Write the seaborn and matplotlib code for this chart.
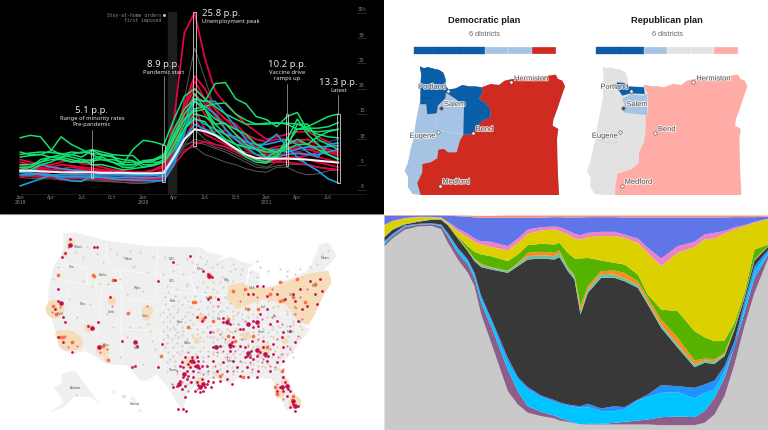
#!/usr/bin/env python3
"""
Four panel news graphics collage: minority unemployment gap, Oregon district
plans, US county dot map and a stacked stream chart
"""

import matplotlib
matplotlib.use("Agg")
import matplotlib.pyplot as plt
import matplotlib.patheffects as pe
import numpy as np
import pandas as pd
import seaborn as sns

# ---- unemployment gap lines, one value per month from Jan 2019 to Aug 2021
months = list(range(32))
red_lines = [
    [6,5.5,5,4.8,4.2,3.8,4,3.8,3.5,3.3,3.2,3.3,3.5,4,5,14,31,35,26,19.5,17,15,13,11.5,10,10.5,11,11.5,11.5,10.5,9.5,8.5],
    [5,4.5,4.8,5,5.5,6,5.2,5,4.5,4,3.8,3.6,3.5,3.8,4.5,10,17,22.5,20,16,14,12,10.5,9,8,8.5,9,9.5,10,9,8,7],
    [4.5,4,4.2,3.5,4,3.8,3.6,3.5,3.2,3,2.8,2.7,2.6,2.8,3.5,9,16,21.5,18,14.5,12,10,9,8,7.5,7.8,8,8.2,8.5,8,7.5,6.8],
    [4,3.8,3.5,3,2.5,2.8,3,3,2.8,2.5,2.3,2.2,2.2,2.4,3,8,14,18,15,12,11,10,9,8.5,7,7,7,7.5,7,6.5,6,5.5],
    [3.5,3.2,3,2.8,2,2.6,2.8,2.6,2.5,2.3,2.1,2,2,2.2,2.8,7,12,16,12,11.5,11.8,10,8,7,5.8,6,6,6.5,6.8,7.5,8,7.5],
    [2.5,3,3.5,3,2.5,2.4,2.6,2.4,2.3,2.1,2,1.9,1.9,2,2.5,6,10,14,11,10,9,8,7,6,5.5,5.5,5.5,5.2,5,4.5,4.2,4],
    [5.5,5,4.5,4,4.2,4.5,4.2,4,3.8,3.5,3.3,3.2,3,3.2,4,9,15,19,17,15,13,11,9.5,8.5,7.5,8,8.5,8.5,8,7.5,7,6.2],
    [3,2.8,2.6,2.5,2.3,2.3,2.4,2.3,2.2,2,1.9,1.8,1.8,1.9,2.2,5,7.5,9.2,9.5,9,8.5,7.5,6.5,6,5.5,6,6.5,6.5,6,5.5,5,4.5],
    [4.2,3.8,4,4.5,5,4.8,4.5,4.3,4,3.8,3.5,3.4,3.5,3.8,5,11,16,20,18,16,14,13,11,10,9.5,10,10,9.5,9,8.5,8,7.5],
]
green_lines = [
    [10.3,10.8,10.5,8,7,6.5,6,5.8,6,5.5,5,5,5.5,6,6.5,11,15,17.5,16,14,13,12,11,9,8,7.5,9,10,9,8,7,6.2],
    [7.5,7,7,7.7,10.5,9,8,7,6,6,5.5,5.5,5.5,5.8,6.5,10,14,16,16.5,17,17.2,15,13.8,13,13,13.2,13.2,13,12.2,12.2,12.5,13.3],
    [6.5,6.8,7,6.5,6.5,7,7.5,7.2,7,6.8,5,5,5.8,6,7,12,16,18,17.5,21,21.2,18,17,14.5,13.9,12.5,14.5,15.3,11.7,11.5,11.7,12],
    [5,5,5.5,6,6,5.5,5.5,6,6.8,6.6,5,8,9.8,9.5,8.9,14,18.5,20,18,16.5,15,14,13,13,13.2,13.3,13,12,12.5,13.5,14.5,15],
    [4,4.5,5.5,6.5,7,7.5,7.3,8,7.5,7,6.8,6.8,5,5,6,10.5,14,15.5,16,13,11,9,7,6,5.5,7,10,14,11,9,7,6],
    [3.5,4,5,5.5,6.5,6,5.5,5.5,6.5,5.5,4.5,4.5,5.5,5.5,5.5,9,13,19,16,12,10,9,8.5,8,7.5,7.5,8.5,13,13,10,9,8],
    [7,7.3,7.5,7.4,7.2,7,6.5,7.8,7,6.5,6,5.8,4.5,4.8,5.5,8,12,14,13.5,11,9.5,8,6.5,5.5,5.3,6.5,9,12,12,11,10.5,10.3],
    [4.5,4.5,6,6.5,6.2,5.5,6,5,5,4.5,4,4.2,4.5,5,5.5,9,12,15,14.5,13,13.2,11,9,8,6.5,7.5,8,9,9,10.5,11.5,12],
]
blue_lines = [
    [0.8,1.5,2.2,3,2.2,1.8,1.7,2.8,2.5,2.2,2,2,1.9,1.8,1.8,5,11,18,17.5,17.5,15,12.5,10,8,9.5,11,8.5,6.5,5,3.8,2.2,1.4],
    [3,3,3.2,3,3,3,3,3,3,3,3,3,2.9,2.9,3,6,10,13,12,11,10,9,8.5,8,8,8,7.5,8,8.5,8.5,8.6,8.8],
    [3.5,3.3,5,4.5,4.2,4,3.8,3.5,3.3,3.2,3.1,3,3,3,3.5,7,12,14.2,13,12,11,10.5,9.5,9,9,9.5,10,9,7.5,6.5,9,9.3],
    [4,3.5,3,2.8,2.6,2.6,2.6,2.5,2.5,2.5,2.5,2.5,2.4,2.4,2.6,6,12,17.5,16.5,15,12,10,8.5,7,6.5,6.5,7,7.2,7,7,7.5,8],
]
grey_lines = [
    [3,3,2.8,2.6,2.5,2.4,2.2,2,1.9,1.7,1.5,1.3,1.3,1.5,2,8,18,28,22,16,12,10,8,7,6.5,7,7.5,7.5,8,8,7.5,7],
    [2.5,2.3,2.2,2.2,2,2,1.9,1.8,1.7,1.6,1.5,1.4,1.4,1.6,2,6,8,8.5,7,6.3,5.5,5,4.2,3.7,3.5,4.5,4.5,3.5,3,3.2,3.8,4],
    [3.5,3.2,3,3,2.8,2.7,2.6,2.5,2.4,2.3,2.2,2.1,2,2.2,2.8,6.5,8.5,10,9.5,8.5,8,7,6,5,4.5,5.5,6.5,6,5,4.5,4.2,4],
    [4,3.8,3.6,3.5,3.4,3.3,3.2,3.1,3,3,2.9,2.8,2.8,3,3.5,7,9,12,10,9,8.5,8,7.5,7,7,7.5,9,10,10,9.5,9.5,10],
    [2.8,2.6,2.5,2.4,2.3,2.3,2.2,2.1,2,1.9,1.9,1.8,1.8,2,2.5,5.5,9,9.5,9,8.2,7.5,6.5,5.5,4.5,4.3,4.8,5,5,5,4.5,4.3,4],
]
white_line = [3.8,3.8,3.7,3.6,3.5,3.5,3.5,3.5,3.4,3.4,3.4,3.3,3.3,3.3,3.4,6.5,10,12,11.6,10.8,9.5,8.2,7,6.3,6.2,6.2,6.2,6.1,6,5.8,5.6,5.4]

x_tick_months = [0, 3, 6, 9, 12, 15, 18, 21, 24, 27, 30]
x_tick_labels = ["Jan\n2019", "Apr", "Jul", "Oct", "Jan\n2020", "Apr", "Jul", "Oct", "Jan\n2021", "Apr", "Jul"]
y_tick_values = [0, 5, 10, 15, 20, 25, 30, 35]
y_tick_labels = ["0", "5", "10", "15", "20", "25", "30", "35%"]

# month, bottom and top of the white range boxes
range_months = [7, 14, 17, 26, 31]
range_low = [2.3, 1.5, 8.6, 4.7, 1.3]
range_high = [7.8, 8.9, 35.2, 15.1, 15]
leader_top = [11.8, 22.5, 35.2, 21, 18.8]

# ---- Oregon shapes, picture units of the map panel
oregon_nw = [(108,203),(120,208),(132,205),(150,210),(165,213),(178,222),(184,240),(186,262),(193,272)]
oregon_n = [(215,268),(235,258),(255,262),(275,262),(293,265)]
oregon_e = [(320,255),(345,258),(362,245),(385,240),(420,240),(445,242),(475,233),(515,227),(522,240),
            (535,245),(543,262),(535,285),(528,305),(520,330),(508,362),(506,380),(523,390),(519,420),
            (520,470),(522,530),(525,588)]
oregon_sw = [(110,588),(85,585),(72,565),(72,535),(62,515),(72,490),(80,450),(88,420),(95,370),(105,320),
             (110,295),(110,260),(112,225)]
dem_red_edge = [(110,588),(100,552),(115,520),(115,495),(140,490),(160,478),(163,452),(180,450),(192,460),
                (218,460),(228,425),(238,408),(265,405),(275,385),(300,362),(320,355),(318,330),(305,312),
                (285,300),(295,282)]
dem_upper = [(185,280),(147,280),(145,297),(110,297),(110,260),(112,225)]
dem_lower = [(110,297),(145,297),(147,280),(185,280),(183,297),(160,320),(158,342),(130,345),(128,315),(110,315)]
dem_central_edge = [(295,282),(285,300),(305,312),(318,330),(320,355),(300,362),(275,385),(265,405),(238,408),
                    (240,320),(215,300),(185,280)]
dem_light_edges = [[(158,342),(155,385),(165,395),(220,403),(238,405)]]
rep_pink_edge = [(146,588),(148,560),(153,525),(198,510),(218,490),(218,460),(233,430),(238,400),(238,350),
                 (245,348),(245,285),(233,262)]
rep_salem = [(168,300),(193,285),(228,290),(243,285),(243,348),(208,345),(171,340),(175,320)]
rep_portland = [(145,265),(153,250),(173,252),(188,262),(233,265),(235,285),(193,283),(168,290),(158,275)]
rep_grey_edges = [[(100,420),(140,415),(155,430),(125,432),(100,425)]]

cities = ["Hermiston", "Portland", "Salem", "Bend", "Eugene", "Medford"]
city_x = [381, 193, 170, 266, 162, 168]
city_y = [250, 275, 328, 403, 400, 562]
label_x = [390, 187, 180, 275, 155, 175]
label_y = [240, 265, 317, 392, 412, 550]
label_ha = ["left", "right", "left", "left", "right", "left"]

dem_districts = ["#0b5ea8", "#0b5ea8", "#0b5ea8", "#a6c3e3", "#a6c3e3", "#d02b20"]
rep_districts = ["#0b5ea8", "#0b5ea8", "#a6c3e3", "#e2e2e2", "#e2e2e2", "#ffaca6"]

# ---- US map, picture units of the map panel
us_outline = [(190,58),(225,55),(320,80),(450,97),(600,100),(625,115),(672,125),(650,140),(690,128),(730,145),
              (760,150),(745,165),(735,225),(755,165),(780,180),(778,215),(800,225),(850,200),(880,190),(920,172),
              (935,150),(960,90),(985,85),(1010,125),(975,165),(985,200),(960,240),(930,290),(915,340),(930,345),
              (890,400),(855,440),(840,460),(870,510),(905,575),(890,585),(860,590),(830,530),(815,495),(770,490),
              (720,490),(690,510),(650,495),(600,500),(560,540),(550,590),(530,565),(510,530),(470,480),(440,500),
              (420,500),(385,455),(320,450),(255,410),(225,420),(180,370),(165,350),(145,280),(145,230),(160,160),
              (190,110)]
alaska_outline = [(185,480),(225,470),(255,510),(300,570),(275,550),(225,545),(190,580),(150,595),(190,565),
                  (170,530),(160,520),(185,510)]
hawaii_x = [340, 372, 395, 403, 418]
hawaii_y = [530, 545, 553, 560, 588]
state_lines = [
    [(320,78),(318,130),(340,170),(362,175),(362,218)],
    [(165,155),(220,150),(265,165),(262,212)],
    [(150,190),(262,212),(362,220)],
    [(208,205),(205,262),(290,375)],
    [(305,220),(295,340),(290,375)],
    [(362,170),(470,180),(465,265),(365,255),(362,170)],
    [(365,255),(362,345),(485,352),(490,265)],
    [(362,345),(365,450)],
    [(472,98),(470,180),(570,190),(585,240),(465,228)],
    [(490,265),(590,270),(605,340),(485,340)],
    [(485,352),(480,450)],
    [(600,100),(575,190),(585,240),(670,245)],
    [(605,340),(695,340),(690,400),(650,440)],
    [(700,225),(740,290),(720,330),(695,340)],
    [(740,235),(775,290),(730,340)],
    [(775,235),(880,225),(875,290),(830,300)],
    [(730,340),(850,330),(920,330)],
    [(700,360),(850,355)],
    [(745,355),(770,470)],
    [(700,360),(720,480)],
    [(800,350),(850,440)],
]
state_names = ["Wash.","Ore.","Mont.","Idaho","Wyo.","Utah","Nev.","Calif.","Ariz.","N.M.","Colo.","N.D.","S.D.",
               "Neb.","Kan.","Okla.","Texas","Minn.","Iowa","Mo.","Ark.","Wis.","Ill.","Ind.","Ohio","Mich.","Ky.",
               "Tenn.","Miss.","Ala.","Ga.","Pa.","N.Y.","Maine","Alaska","Hawaii","Va.","N.C."]
state_x = [235,216,387,308,413,335,248,183,318,413,436,515,517,521,541,565,520,604,628,660,650,682,740,790,878,757,826,
           785,692,750,800,890,945,977,226,405,900,870]
state_y = [95,157,131,181,219,292,266,298,390,400,304,132,197,258,322,385,466,163,248,312,395,196,282,275,240,218,303,
           350,438,420,425,278,213,128,520,566,320,350]

peach_blob_x = [165,205,225,180,308,442,440,335,212,195,840,885,855,790,740,855,628,605,600,570,265,592,650,690,320]
peach_blob_y = [285,380,385,362,408,290,308,260,85,120,535,565,505,410,365,380,185,312,505,445,342,380,480,385,435]
peach_blob_r = [28,32,24,14,20,17,12,13,13,9,17,19,12,18,14,10,12,14,16,18,13,10,8,9,9]
# Ohio valley and north east band
peach_band = [(685,215),(730,205),(750,225),(800,220),(840,215),(870,200),(920,180),(985,170),(995,205),(970,245),
              (945,300),(925,335),(890,315),(860,275),(840,265),(790,255),(750,270),(710,285),(680,255)]
peach_dots = [(225,115),(260,100),(330,105),(390,110),(460,130),(405,155),(360,195),(300,210),(320,300),(430,230),
              (390,340),(450,350),(505,370),(290,120),(350,120),(400,160),(575,145),(640,205),(560,215),(208,255),
              (640,460),(660,450),(705,430),(830,400),(860,420),(880,430),(820,370),(770,380),(690,350),(640,370),
              (580,370),(525,345),(480,300),(445,330),(380,370),(250,200),(275,215),(325,210),(380,300),(370,545),
              (228,542),(860,170),(850,205),(905,190),(770,140),(660,290),(640,275),(580,300),(545,410),(525,440),
              (700,200),(715,295),(735,285),(770,265),(805,262),(835,275),(860,290),(880,330),(905,345),(700,305),
              (720,360),(760,365),(790,370),(815,345),(835,335),(800,385),(760,400),(720,420),(680,420),(640,420),
              (610,400),(650,350),(620,365),(590,360),(760,450),(785,455),(840,430),(875,415),(900,370)]
grey_dots = [(495,130),(530,150),(560,135),(590,150),(620,140),(650,150),(490,180),(520,170),(550,180),(580,175),
             (610,205),(640,225),(665,160),(690,170),(720,180),(680,200),(700,150),(560,210),(590,220),(620,220),
             (650,235),(670,220),(500,215),(530,225),(495,250),(525,245),(555,250),(585,245),(615,235),(645,250),
             (675,250),(495,270),(520,275),(545,270),(570,280),(595,285),(620,280),(650,275),(680,280),(490,295),
             (510,300),(530,295),(555,305),(580,300),(625,300),(655,300),(680,305),(710,300),(490,325),(510,320),
             (530,330),(555,325),(580,330),(630,335),(655,345),(700,330),(725,315),(490,350),(510,345),(530,355),
             (550,350),(590,345),(610,355),(635,350),(680,345),(710,345),(740,360),(490,375),(515,375),(535,370),
             (560,375),(585,385),(610,380),(650,375),(675,385),(720,375),(760,355),(790,345),(815,335),(840,340),
             (495,400),(520,400),(545,395),(570,400),(600,410),(625,410),(665,415),(700,420),(730,410),(770,395),
             (810,365),(830,355),(860,335),(880,320),(520,425),(540,420),(610,430),(650,425),(675,430),(715,405),
             (755,405),(780,430),(815,430),(840,420),(870,400),(890,375),(500,445),(525,455),(620,475),(660,465),
             (695,460),(725,445),(750,450),(795,460),(825,465),(500,475),(530,480),(560,510),(625,480),(700,480),
             (755,475),(690,230),(725,300),(760,300),(800,310),(820,280),(860,300),(880,300),(730,240),(780,160),
             (750,175),(770,190),(930,160),(950,150),(885,180),(900,165),(965,120),(985,110),(160,195),(175,160),
             (250,130),(310,145),(370,130),(420,115),(440,175),(380,240),(270,270),(230,310),(340,340),(420,340),
             (360,430),(430,450),(465,405),(455,380),
             (505,235),(535,260),(565,262),(600,260),(630,265),(660,265),(690,268),(505,285),(535,285),(565,295),
             (600,298),(640,290),(670,292),(700,290),(500,310),(520,310),(545,315),(570,318),(640,310),(700,315),
             (745,310),(770,310),(500,338),(520,340),(545,340),(570,342),(620,340),(665,355),(695,355),(725,360),
             (775,360),(805,355),(500,362),(525,362),(545,362),(575,362),(600,368),(630,370),(665,370),(695,370),
             (735,375),(500,388),(530,388),(555,385),(580,400),(640,385),(665,395),(705,395),(745,390),(505,415),
             (530,415),(560,415),(585,420),(640,415),(690,430),(735,445),(770,440),(800,415),(825,410),(865,365),
             (510,435),(600,475),(640,475),(680,455),(710,470),(775,455),(805,450),(835,465),(880,350),(900,335),
             (600,130),(615,150),(635,160),(665,190),(660,205),(705,165),(725,165),(805,170),(840,165),(860,185)]
pink_dots = [(640,355),(660,360),(675,375),(715,330),(705,350),(735,320),(785,315),(815,310),(845,330),(870,335),
             (650,415),(625,425),(670,410),(705,410),(725,375),(745,395),(775,375),(805,395),(830,375),(860,395),
             (870,405),(835,430),(810,455),(785,445),(755,465),(725,470),(700,470),(665,480),(640,490),(610,480),
             (595,475),(570,505),(545,505),(565,530),(590,525),(625,470),(645,455),(680,430),(720,440),(750,445),
             (775,420),(790,435),(810,405),(845,420),(825,460),(850,465),(845,490),(830,510),(850,555),(875,555),
             (895,365),(905,315),(885,300),(900,250),(920,225),(815,225),(770,250),(720,260),(655,275),(545,440),
             (180,280),(155,295),(195,365),(205,400),(230,395),(300,415),(320,405),(440,275),(335,275),(205,100),
             (565,415),(590,425),(610,440),(530,470),(515,510)]
orange_dots = [(180,370),(158,275),(168,300),(280,183),(340,197),(385,297),(585,263),(565,340),(610,315),(683,315),
               (640,320),(705,380),(685,365),(845,472),(825,520),(830,540),(880,545),(323,437),(484,425),(730,490),
               (840,260),(850,258),(880,250),(775,285),(745,285),(700,230),(735,225),(810,240),(945,210),(840,205),
               (890,195),(915,265),(800,400),(630,250),(580,265),(760,365),(660,485),(175,182),(283,185),(310,395),
               (190,370),(215,385)]
crimson_big = [(210,92),(182,268),(275,343),(298,400),(405,385),(538,510),(552,480),(575,440),(590,455),(600,520),
               (610,510),(648,398),(690,392),(745,418),(770,408),(795,420),(860,515),(880,560),(885,575),(845,520),
               (628,185),(745,330),(770,325),(682,325)]
crimson_small = [(545,445),(555,430),(565,450),(575,430),(585,455),(595,440),(605,455),(580,470),(560,470),(550,490),
                 (530,515),(545,525),(560,495),(580,490),(590,505),(605,495),(615,520),(625,500),(640,505),(600,535),
                 (555,550),(520,520),(548,585),(558,590),(535,585),(660,500),(680,495),(695,510),(720,485),(745,490),
                 (770,490),(775,470),(810,470),(830,445),(850,440),(820,420),(800,440),(760,435),(735,430),(700,440),
                 (670,445),(640,440),(620,455),(650,470),(680,470),(710,460),(740,460),(690,410),(660,395),(640,400),
                 (630,355),(605,320),(590,310),(615,310),(670,325),(700,370),(730,345),(760,340),(780,300),(800,285),
                 (830,320),(850,355),(870,350),(845,370),(885,385),(820,390),(790,380),(755,380),(720,395),(850,400),
                 (840,520),(860,545),(870,530),(885,590),(870,580),(850,490),(175,260),(165,285),(190,310),(195,325),
                 (175,370),(190,385),(215,415),(265,335),(210,75),(195,118),(185,130),(290,98),(282,98),(330,248),
                 (475,200),(410,395),(395,460),(405,455),(475,460),(485,390),(625,180),(635,190),(610,170),(570,125),
                 (520,145),(655,255),(625,255),(365,380),(295,325),(345,197),(175,225),(770,215),(790,215),(745,240),
                 (760,240),(800,245),(830,240),(855,255),(885,260),(900,225),(930,200),(960,195),(895,320),(920,275),
                 (945,240),(965,230),(950,270),(905,285),(880,240),(655,255),(720,345),(810,330),(700,395),(735,400),
                 (570,440),(582,445),(598,462),(570,460),(548,460),(540,455),(592,430),(565,485),(540,500),(572,505),
                 (595,512),(585,530),(620,510),(632,518),(610,530),(555,515),(690,400),(695,385),(740,425),(752,410),
                 (780,415),(788,400),(805,425),(770,425),(750,430),(855,505),(865,525),(850,530),(830,530),(880,570),
                 (895,575),(760,320),(775,335),(670,312),(690,330)]

# ---- stream chart, upper edge of each layer in picture units of its panel
stream_x = [0,24,60,100,140,170,190,220,250,270,290,320,370,400,430,470,510,525,550,570,588,610,650,690,720,760,790,
            830,880,930,960,990,1020,1050,1080,1110,1152]
purple_bottom = [95,72,46,36,34,44,85,135,175,215,300,385,530,570,595,605,612,618,622,626,630,630,630,630,630,630,630,
                 632,632,632,625,600,545,450,335,235,130]
purple_top = [88,65,38,31,29,35,65,115,150,190,265,335,465,530,575,592,603,610,618,625,630,628,628,625,622,618,615,
              608,606,608,590,550,490,395,295,190,118]
cyan_top = [84,62,36,30,28,33,60,105,140,180,250,320,445,495,525,548,562,568,574,577,580,578,590,590,585,558,548,
            535,533,552,535,525,470,400,280,170,112]
blue_top = [80,58,33,28,26,30,55,100,135,175,245,312,430,488,518,543,557,563,570,573,575,568,582,575,578,555,540,
            512,515,520,510,498,455,380,262,155,105]
dark_top = [68,46,30,22,16,16,32,72,110,140,158,165,175,155,135,132,135,128,170,195,300,235,190,190,200,220,270,
            340,400,458,445,448,425,345,250,138,95]
teal_top = [67,45,29,21,15,15,31,70,108,135,152,160,170,148,125,122,125,115,160,185,290,225,178,180,192,210,262,
            330,390,450,438,440,420,342,248,136,94]
orange_top = [66,44,28,20,14,14,30,69,106,133,148,158,169,145,115,112,115,108,158,182,275,215,170,168,175,200,250,
              315,370,438,432,434,416,340,246,135,93]
green_top = [65,43,27,19,13,13,29,66,95,112,120,125,140,120,92,88,90,85,115,132,132,130,138,145,150,180,240,
             285,290,350,368,380,378,325,235,105,90]
yellow_top = [32,20,12,8,8,10,25,50,68,82,90,97,108,85,58,48,45,50,60,72,75,68,65,65,70,85,115,155,115,98,75,72,58,
              45,35,25,14]
pink_top = [31,19,11,7,7,9,22,42,58,72,80,82,95,72,45,38,36,38,48,58,62,55,52,52,60,72,100,132,95,82,60,55,50,38,32,
            22,12]
periwinkle_top = [4,4,4,3,3,3,4,5,6,9,10,10,10,10,9,10,8,8,9,9,9,8,8,8,9,9,9,9,9,9,9,9,9,8,8,8,6]
salmon_top = [2,2,2,2,2,2,2,3,3,4,4,4,3,3,3,3,3,3,3,3,3,3,3,3,3,3,3,3,3,3,3,3,3,3,3,3,3]
stream_edges = [purple_bottom, purple_top, cyan_top, blue_top, dark_top, teal_top, orange_top, green_top, yellow_top,
                pink_top, periwinkle_top, salmon_top]
stream_colors = ["#8b5e8c", "#00c4ff", "#2290ff", "#383838", "#6fc0a0", "#ff8a1c", "#56b400", "#dcd000", "#ee82c8",
                 "#5f75e8", "#f2917f"]

W, H = 768, 431


def panel_axes(fig, left, top, right, bottom):
    """Axes placed by pixel edges of the figure."""
    return fig.add_axes([left / W, 1 - bottom / H, (right - left) / W, (bottom - top) / H])


def lines_frame(lines, group):
    rows = []
    for i, vals in enumerate(lines):
        rows.append(pd.DataFrame({"month": months, "gap": vals, "area": f"{group}{i}"}))
    return pd.concat(rows, ignore_index=True)


def draw_unemployment(fig):
    back = panel_axes(fig, 0, 0, 384, 215)
    back.set_facecolor("black")
    back.set_xticks([])
    back.set_yticks([])
    sns.despine(ax=back, left=True, bottom=True)

    ax = panel_axes(fig, 20, 13.7, 366, 191)
    ax.patch.set_alpha(0)
    ax.set_xlim(0, 33.69)
    ax.set_ylim(0, 35)
    sns.despine(ax=ax, left=True, bottom=True)
    ax.grid(False)

    ax.axvspan(14.4, 15.2, ymin=-0.017, ymax=1.005, color="#1e1e1e", zorder=0, clip_on=False)

    styles = [(grey_lines, "k", "#5a5a5a", 0.7), (red_lines, "r", "#e8053f", 1.25),
              (blue_lines, "b", "#1a9ee0", 1.2), (green_lines, "g", "#12e070", 1.1)]
    for lines, group, color, width in styles:
        sns.lineplot(data=lines_frame(lines, group), x="month", y="gap", units="area", estimator=None,
                     color=color, linewidth=width, legend=False, ax=ax, clip_on=False)
    sns.lineplot(x=months, y=white_line, color="#f2f2f2", linewidth=1.5, ax=ax, clip_on=False)

    # white range boxes with leaders
    for m, lo, hi, top in zip(range_months, range_low, range_high, leader_top):
        ax.add_patch(plt.Rectangle((m - 0.13, lo), 0.26, hi - lo, fill=False, ec="#cfcfcf", lw=0.6,
                                   zorder=6, clip_on=False))
        if top > hi:
            ax.plot([m, m], [hi, top], color="#aaaaaa", lw=0.5, zorder=6)

    big = dict(color="#e4e4e4", fontsize=6.9, ha="center", va="center", family="Noto Sans")
    small = dict(color="#e8e8e8", fontsize=4.2, ha="center", va="center", family="Noto Sans")
    ax.text(7, 15.8, "5.1 p.p.", **big)
    ax.text(7, 14.3, "Range of minority rates", fontweight="bold", **small)
    ax.text(7, 13.2, "Pre-pandemic", **small)
    ax.text(14, 24.9, "8.9 p.p.", **big)
    ax.text(14, 23.4, "Pandemic start", **small)
    ax.text(26, 24.9, "10.2 p.p.", **big)
    ax.text(26, 23.4, "Vaccine drive", **small)
    ax.text(26, 22.2, "ramps up", **small)
    ax.text(31, 21.4, "13.3 p.p.", **big)
    ax.text(31, 19.9, "Latest", **small)
    ax.text(17.7, 35, "25.8 p.p.", **{**big, "ha": "left"})
    ax.text(17.7, 33.5, "Unemployment peak", **{**small, "ha": "left"})

    mono = dict(color="#8a8a8a", fontsize=3.4, ha="right", va="center", family="DejaVu Sans Mono")
    ax.text(13.8, 34.6, "Stay-at-home orders", **mono)
    ax.text(13.8, 33.6, "first imposed", **mono)
    ax.plot([14.05], [34.6], "s", color="#cccccc", ms=1)

    ax.set_xticks(x_tick_months)
    ax.set_xticklabels(x_tick_labels, family="DejaVu Sans Mono", fontsize=3.4, color="#8a8a8a", linespacing=1.0)
    ax.tick_params(axis="x", length=1, width=0.3, color="#555555", pad=2.2)
    ax.set_yticks([])
    ax.set_xlabel("")
    ax.set_ylabel("")
    ax.axhline(-0.8, color="#333333", lw=0.4, clip_on=False)

    # short right hand scale, labels sit on top of their rules
    for value, label in zip(y_tick_values, y_tick_labels):
        ax.plot([32.85, 33.69], [value, value], color="#4a4a4a", lw=0.4, clip_on=False)
        ax.text(33.3, value + 0.3, label, color="#8a8a8a", fontsize=3.4, ha="center", va="bottom",
                family="DejaVu Sans Mono")


def draw_plan(ax, shift, title, districts):
    """Title, six district bar and city markers of one Oregon plan."""
    cx = 302 + shift
    ax.text(cx, 61, title, fontsize=6.7, fontweight="bold", ha="center", va="center",
            family="Liberation Sans", color="#1a1a1a")
    ax.text(cx, 105, "6 districts", fontsize=5.3, ha="center", va="center", family="Liberation Sans",
            color="#666666")
    bar = pd.DataFrame({"district": range(6), "color": districts})
    for i, row in bar.iterrows():
        ax.barh(153, 70.8, left=90 + shift + 70.8 * i, height=21, color=row["color"],
                edgecolor="#ffffff" if row["color"] != "#0b5ea8" else "#0a4a86", linewidth=0.2)


def draw_cities(ax, shift):
    halo = [pe.withStroke(linewidth=1.2, foreground="white", alpha=0.8)]
    for i, name in enumerate(cities):
        x = city_x[i] + shift
        fc = "#333333" if name == "Salem" else "white"
        ax.plot([x], [city_y[i]], "o", ms=2.4, mfc="white", mec="#444444", mew=0.4, zorder=5)
        if name == "Salem":
            ax.plot([x], [city_y[i]], "o", ms=0.9, color=fc, zorder=6)
        ax.text(label_x[i] + shift, label_y[i], name, fontsize=5.4, ha=label_ha[i], va="center",
                family="Liberation Sans", color="#555555", path_effects=halo, zorder=6)


def draw_oregon(fig):
    ax = panel_axes(fig, 384, 0, 768, 215)
    ax.set_xlim(0, 1152)
    ax.set_ylim(645, 0)
    ax.axis("off")

    # Democratic plan
    outline = oregon_nw + oregon_n + oregon_e + oregon_sw
    ax.fill(*zip(*outline), color="#a6c3e3", lw=0)
    ax.fill(*zip(*(oregon_n[-1:] + oregon_e + dem_red_edge)), color="#d02b20", lw=0)
    ax.fill(*zip(*(oregon_nw + dem_upper)), fc="#0b5ea8", ec="#0a4a86", lw=0.3)
    ax.fill(*zip(*dem_lower), fc="#0b5ea8", ec="#0a4a86", lw=0.3)
    ax.fill(*zip(*(oregon_nw[-1:] + oregon_n + dem_central_edge)), color="#0b5ea8", lw=0)
    for edge in dem_light_edges:
        ax.plot(*zip(*edge), color="#c4d7ec", lw=0.4)
    draw_plan(ax, 0, "Democratic plan", dem_districts)
    draw_cities(ax, 0)

    # Republican plan, same state outline moved over
    dx = 547
    def moved(points):
        return [p[0] + dx for p in points], [p[1] for p in points]
    ax.fill(*moved(outline), color="#e2e2e2", lw=0)
    ax.fill(*moved(oregon_n[1:] + oregon_e + rep_pink_edge), color="#ffaca6", lw=0)
    ax.fill(*moved(rep_salem), color="#a6c3e3", lw=0)
    ax.fill(*moved(rep_portland), color="#0b5ea8", lw=0)
    for edge in rep_grey_edges:
        ax.plot(*moved(edge), color="#cfcfcf", lw=0.4)
    draw_plan(ax, dx, "Republican plan", rep_districts)
    draw_cities(ax, dx)


def dots_frame(points):
    return pd.DataFrame(points, columns=["x", "y"])


def draw_us_map(fig):
    ax = panel_axes(fig, 0, 215, 384, 431)
    ax.set_xlim(0, 1152)
    ax.set_ylim(648, 0)
    ax.axis("off")

    ax.plot([0, 1152], [1, 1], color="#8a8a8a", lw=0.8, zorder=1)
    ax.fill(*zip(*us_outline), color="#efefef", lw=0)
    ax.fill(*zip(*alaska_outline), color="#efefef", lw=0)
    sns.scatterplot(x=hawaii_x, y=hawaii_y, color="#efefef", s=7, linewidth=0, ax=ax)
    for line in state_lines:
        ax.plot(*zip(*line), color="white", lw=0.35, zorder=2)

    ax.fill(*zip(*peach_band), color="#f7dcb9", lw=0, zorder=3)
    sns.scatterplot(x=peach_blob_x, y=peach_blob_y, s=[(0.48 * r) ** 2 for r in peach_blob_r],
                    color="#f7dcb9", linewidth=0, ax=ax, zorder=3)

    layers = [(grey_dots, "#cfcfcf", 2.4, 4), (peach_dots, "#f3cfa2", 3, 4), (pink_dots, "#e2648c", 2.2, 5),
              (orange_dots, "#ff6f3c", 7, 5), (crimson_small, "#c90f55", 4, 6), (crimson_big, "#c40c50", 11, 7)]
    for points, color, size, order in layers:
        sns.scatterplot(data=dots_frame(points), x="x", y="y", s=size, color=color, linewidth=0, ax=ax,
                        zorder=order, legend=False)
    for name, x, y in zip(state_names, state_x, state_y):
        ax.text(x, y, name, fontsize=2.4, color="#555555", ha="center", va="center", zorder=8,
                family="Liberation Sans")
    ax.set_xlabel("")
    ax.set_ylabel("")


def draw_stream(fig):
    ax = panel_axes(fig, 384, 215, 768, 431)
    ax.set_xlim(0, 1152)
    ax.set_ylim(648, 0)
    ax.axis("off")
    x = np.array(stream_x)
    ax.fill_between(x, purple_bottom, 648, color="#c9c9c9", lw=0)
    for lower, upper, color in zip(stream_edges[:-1], stream_edges[1:], stream_colors):
        ax.fill_between(x, lower, upper, color=color, lw=0)


def main():
    sns.set_theme(style="white")
    fig = plt.figure(figsize=(W / 100, H / 100), dpi=100, facecolor="white")
    draw_unemployment(fig)
    draw_oregon(fig)
    draw_us_map(fig)
    draw_stream(fig)
    fig.savefig("out.png", dpi=100, facecolor="white")
    plt.close(fig)


if __name__ == "__main__":
    main()
